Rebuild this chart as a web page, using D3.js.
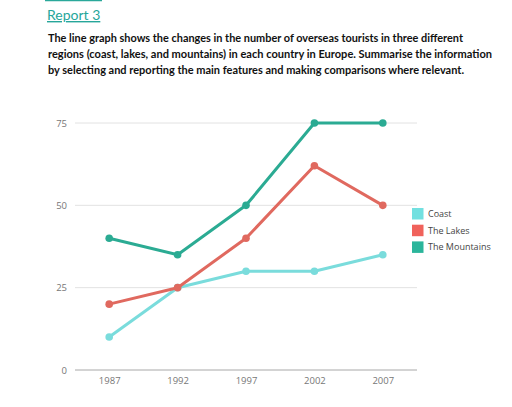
<!DOCTYPE html>
<html>
<head>
<meta charset="utf-8">
<script src="https://cdn.jsdelivr.net/npm/d3@7"></script>
<style>
  body { margin: 0; background: #fff; }
  svg { display: block; }
</style>
</head>
<body>
<script>
// data
var years = ["1987", "1992", "1997", "2002", "2007"];
var coast = [10, 25, 30, 30, 35];
var lakes = [20, 25, 40, 62, 50];
var mountains = [40, 35, 50, 75, 75];
var seriesNames = ["Coast", "The Lakes", "The Mountains"];
var yTicks = [0, 25, 50, 75];
var introLines = [
  "The line graph shows the changes in the number of overseas tourists in three different",
  "regions (coast, lakes, and mountains) in each country in Europe. Summarise the information",
  "by selecting and reporting the main features and making comparisons where relevant."
];

var colors = { "Coast": "#7adcdc", "The Lakes": "#e0695f", "The Mountains": "#2bab93" };
var legendColors = { "Coast": "#72e0e0", "The Lakes": "#f0625b", "The Mountains": "#2bb59b" };

var svg = d3.select("body").append("svg")
    .attr("width", 512)
    .attr("height", 407);

// header
svg.append("line")
    .attr("x1", 45).attr("x2", 102).attr("y1", 0.5).attr("y2", 0.5)
    .style("stroke", "#2aa89a").style("stroke-width", 1.5);

svg.append("text")
    .attr("x", 47).attr("y", 20)
    .style("font-family", "Lato, 'Open Sans', sans-serif")
    .style("font-size", "14px")
    .style("fill", "#26a69a")
    .style("text-decoration", "underline")
    .text("Report 3");

var lineEnds = [463, 492, 464];
svg.selectAll(".intro")
    .data(introLines)
  .enter().append("text")
    .attr("class", "intro")
    .attr("x", 48)
    .attr("y", function(d, i) { return 42 + i * 16; })
    .attr("textLength", function(d, i) { return lineEnds[i] - 48; })
    .attr("lengthAdjust", "spacingAndGlyphs")
    .style("font-family", "Lato, sans-serif")
    .style("font-weight", "bold")
    .style("font-size", "10.5px")
    .style("fill", "#111")
    .text(function(d) { return d; });

// scales
var x = d3.scalePoint()
    .domain(years)
    .range([75, 417])
    .padding(0.5);

var y = d3.scaleLinear()
    .domain([0, 75])
    .range([370, 123]);

var g = svg.append("g");

// gridlines
g.selectAll(".grid")
    .data(yTicks)
  .enter().append("line")
    .attr("class", "grid")
    .attr("x1", 75).attr("x2", 417)
    .attr("y1", function(d) { return y(d); })
    .attr("y2", function(d) { return y(d); })
    .style("stroke", function(d) { return d == 0 ? "#a8a8a8" : "#e2e2e2"; })
    .style("stroke-width", 1);

// y axis labels
var yAxis = g.append("g")
    .attr("transform", "translate(67,0)")
    .call(d3.axisLeft(y).tickValues(yTicks).tickSize(0).tickPadding(0));
yAxis.select(".domain").remove();
yAxis.selectAll("text")
    .style("font-family", "'Open Sans', sans-serif")
    .style("font-size", "9.5px")
    .style("fill", "#777");

// x axis labels
var xAxis = g.append("g")
    .attr("transform", "translate(0,377)")
    .call(d3.axisBottom(x).tickSize(0).tickPadding(0));
xAxis.select(".domain").remove();
xAxis.selectAll("text")
    .attr("dy", "0.71em")
    .style("font-family", "'Open Sans', sans-serif")
    .style("font-size", "9.5px")
    .style("fill", "#777");

var series = [
  { name: "Coast", values: coast },
  { name: "The Lakes", values: lakes },
  { name: "The Mountains", values: mountains }
];

var line = d3.line()
    .x(function(d, i) { return x(years[i]); })
    .y(function(d) { return y(d); });

series.forEach(function(s) {
  g.append("path")
    .datum(s.values)
    .attr("d", line)
    .style("fill", "none")
    .style("stroke", colors[s.name])
    .style("stroke-width", 3)
    .style("stroke-linejoin", "round");

  g.selectAll(".dot-" + s.name.replace(/ /g, ""))
    .data(s.values)
  .enter().append("circle")
    .attr("cx", function(d, i) { return x(years[i]); })
    .attr("cy", function(d) { return y(d); })
    .attr("r", 3.8)
    .style("fill", colors[s.name]);
});

// legend
var legend = g.selectAll(".legend")
    .data(seriesNames)
  .enter().append("g")
    .attr("class", "legend")
    .attr("transform", function(d, i) { return "translate(412," + (208 + i * 16.7) + ")"; });

legend.append("rect")
    .attr("width", 11.5).attr("height", 11.5)
    .style("fill", function(d) { return legendColors[d]; });

legend.append("text")
    .attr("x", 16).attr("y", 9)
    .style("font-family", "'Open Sans', sans-serif")
    .style("font-size", "9px")
    .style("fill", "#444")
    .text(function(d) { return d; });
</script>
</body>
</html>
